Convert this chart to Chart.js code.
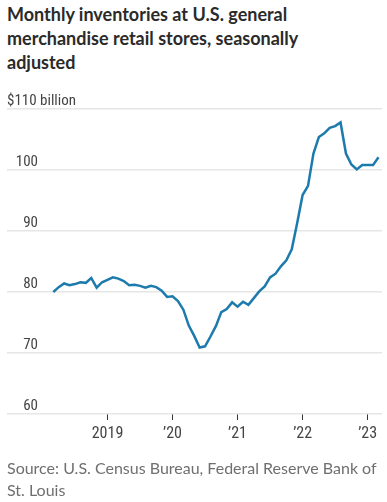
<!DOCTYPE html>
<html>
<head>
<meta charset="utf-8">
<script src="https://cdn.jsdelivr.net/npm/chart.js@4.4.0/dist/chart.umd.min.js"></script>
<style>
  html, body { margin: 0; padding: 0; background: #fff; }
  body { width: 387px; height: 502px; position: relative; overflow: hidden; }
  #title { position: absolute; left: 7px; top: 2px; width: 380px; font-family: Lato, sans-serif; font-weight: bold; font-size: 18px; line-height: 24px; color: #2a2a2a; }
  #source { position: absolute; left: 7px; top: 457px; width: 380px; font-family: Lato, sans-serif; font-size: 16px; line-height: 22px; color: #6f6f6f; }
  #wrap { position: absolute; left: 0; top: 0; width: 387px; height: 502px; }
</style>
</head>
<body>
<div id="title">Monthly inventories at U.S. general<br>merchandise retail stores, seasonally<br>adjusted</div>
<div id="wrap"><canvas id="myChart"></canvas></div>
<div id="source">Source: U.S. Census Bureau, Federal Reserve Bank of<br>St. Louis</div>
<script>
// monthly values, Mar 2018 .. Mar 2023 ($ billion)
var months = ['2018-03','2018-04','2018-05','2018-06','2018-07','2018-08','2018-09','2018-10','2018-11','2018-12',
  '2019-01','2019-02','2019-03','2019-04','2019-05','2019-06','2019-07','2019-08','2019-09','2019-10','2019-11','2019-12',
  '2020-01','2020-02','2020-03','2020-04','2020-05','2020-06','2020-07','2020-08','2020-09','2020-10','2020-11','2020-12',
  '2021-01','2021-02','2021-03','2021-04','2021-05','2021-06','2021-07','2021-08','2021-09','2021-10','2021-11','2021-12',
  '2022-01','2022-02','2022-03','2022-04','2022-05','2022-06','2022-07','2022-08','2022-09','2022-10','2022-11','2022-12',
  '2023-01','2023-02','2023-03'];
var inventories = [80.0, 80.8, 81.4, 81.1, 81.3, 81.6, 81.5, 82.3, 80.7, 81.6,
  82.0, 82.4, 82.2, 81.8, 81.1, 81.2, 81.0, 80.7, 81.0, 80.8, 80.2, 79.2,
  79.3, 78.5, 77.1, 74.5, 72.8, 70.9, 71.1, 72.7, 74.4, 76.7, 77.2, 78.3,
  77.6, 78.4, 77.9, 79.0, 80.1, 80.9, 82.4, 83.0, 84.2, 85.2, 87.0, 91.3,
  95.9, 97.4, 102.7, 105.4, 106.0, 106.9, 107.2, 107.8, 102.7, 100.9, 100.1, 100.8,
  100.8, 100.8, 102.1];

var yTicks = [60, 70, 80, 90, 100, 110];
var yLabels = ['60', '70', '80', '90', '100', '$110 billion'];
var xTickMonths = ['2019-01', '2020-01', '2021-01', '2022-01', '2023-01'];
var xLabels = ['2019', '\u201920', '\u201921', '\u201922', '\u201923'];

var points = [];
for (var i = 0; i < months.length; i++) {
  points.push({ x: i, y: inventories[i] });
}
var xTickIdx = [];
for (var i = 0; i < xTickMonths.length; i++) {
  xTickIdx.push(months.indexOf(xTickMonths[i]));
}

var narrow = '"Liberation Sans Narrow", "Arial Narrow", "Roboto Condensed", sans-serif';

// y labels sit on top of the gridlines, inside the plot
var yLabelPlugin = {
  id: 'yLabels',
  afterDraw: function (chart) {
    var ctx = chart.ctx;
    var y = chart.scales.y;
    ctx.save();
    ctx.font = '15px ' + narrow;
    ctx.fillStyle = '#444';
    ctx.textBaseline = 'alphabetic';
    for (var i = 0; i < yTicks.length; i++) {
      var py = y.getPixelForValue(yTicks[i]);
      if (yTicks[i] == 110) {
        ctx.textAlign = 'left';
        ctx.fillText(yLabels[i], 7, py - 4);
      } else {
        ctx.textAlign = 'right';
        ctx.fillText(yLabels[i], 38, py - 4);
      }
    }
    ctx.restore();
  }
};

var ctx = document.getElementById('myChart').getContext('2d');
var chart = new Chart(ctx, {
  type: 'line',
  data: {
    datasets: [{
      data: points,
      borderColor: '#1d7aad',
      borderWidth: 2.5,
      pointRadius: 0,
      tension: 0,
      fill: false
    }]
  },
  options: {
    responsive: true,
    maintainAspectRatio: false,
    animation: false,
    layout: { padding: { top: 109, left: 7, right: 5, bottom: 48 } },
    plugins: { legend: { display: false }, tooltip: { enabled: false } },
    scales: {
      x: {
        type: 'linear',
        min: -8.54,
        max: 60.65,
        afterBuildTicks: function (s) {
          s.ticks = xTickIdx.map(function (v) { return { value: v }; });
        },
        afterFit: function (s) { s.height = 40; },
        grid: { drawOnChartArea: false, drawTicks: true, tickLength: 6, color: '#333', lineWidth: 1 },
        border: { display: false },
        ticks: {
          padding: 4,
          maxRotation: 0,
          autoSkip: false,
          color: '#444',
          font: { family: narrow, size: 16 },
          callback: function (v) {
            var k = xTickIdx.indexOf(v);
            return k >= 0 ? xLabels[k] : '';
          }
        }
      },
      y: {
        min: 60,
        max: 110,
        afterBuildTicks: function (s) {
          s.ticks = yTicks.map(function (v) { return { value: v }; });
        },
        afterFit: function (s) { s.width = 0; },
        grid: { color: '#e6e6e6', lineWidth: 1.5, drawTicks: false },
        border: { display: false },
        ticks: { display: false }
      }
    }
  },
  plugins: [yLabelPlugin]
});
</script>
</body>
</html>
